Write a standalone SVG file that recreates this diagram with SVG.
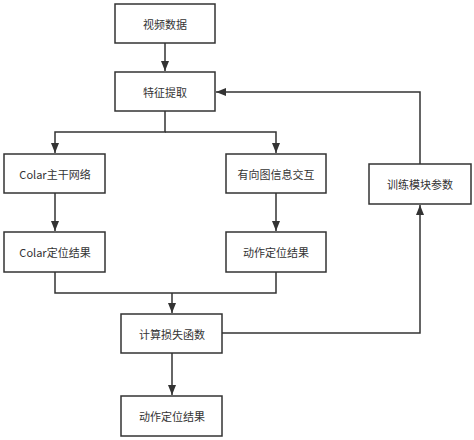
<svg xmlns="http://www.w3.org/2000/svg" width="474" height="440" viewBox="0 0 474 440">
<defs>
<style>
.box{fill:#fff;stroke:#333;stroke-width:1.5}
.t{font-family:"Noto Sans CJK SC","Noto Sans",sans-serif;font-size:11px;fill:#333;text-anchor:middle;dominant-baseline:central}
.c{fill:none;stroke:#333;stroke-width:1.5}
</style>
<marker id="ah" viewBox="0 0 10 8" refX="10" refY="4" markerWidth="10" markerHeight="8" markerUnits="userSpaceOnUse" orient="auto">
<path d="M0,0 L10,4 L0,8 Z" fill="#333"/>
</marker>
</defs>
<rect width="474" height="440" fill="#fff"/>
<g id="connectors">
<path class="c" d="M165,43 V71" marker-end="url(#ah)"/>
<path class="c" d="M165,111 V132 H55 V153" marker-end="url(#ah)"/>
<path class="c" d="M165,132 H276 V153" marker-end="url(#ah)"/>
<path class="c" d="M55,193 V231" marker-end="url(#ah)"/>
<path class="c" d="M276,193 V231" marker-end="url(#ah)"/>
<path class="c" d="M55,272 V293 H276 V272"/>
<path class="c" d="M172,293 V313" marker-end="url(#ah)"/>
<path class="c" d="M172,353 V395" marker-end="url(#ah)"/>
<path class="c" d="M222,333 H420 V205" marker-end="url(#ah)"/>
<path class="c" d="M420,164 V92 H216" marker-end="url(#ah)"/>
</g>
<g id="n1"><rect class="box" x="115" y="4" width="100" height="39"/><text class="t" x="165" y="24">视频数据</text></g>
<g id="n2"><rect class="box" x="115" y="72" width="100" height="39"/><text class="t" x="165" y="92">特征提取</text></g>
<g id="n3"><rect class="box" x="4" y="154" width="101" height="39"/><text class="t" x="55" y="174">Colar主干网络</text></g>
<g id="n4"><rect class="box" x="226" y="154" width="100" height="39"/><text class="t" x="276" y="174">有向图信息交互</text></g>
<g id="n5"><rect class="box" x="4" y="232" width="101" height="40"/><text class="t" x="55" y="252">Colar定位结果</text></g>
<g id="n6"><rect class="box" x="226" y="232" width="100" height="40"/><text class="t" x="276" y="252">动作定位结果</text></g>
<g id="n7"><rect class="box" x="369" y="164" width="102" height="40"/><text class="t" x="420" y="184">训练模块参数</text></g>
<g id="n8"><rect class="box" x="121" y="314" width="101" height="39"/><text class="t" x="172" y="334">计算损失函数</text></g>
<g id="n9"><rect class="box" x="121" y="396" width="101" height="40"/><text class="t" x="172" y="416">动作定位结果</text></g>
</svg>
